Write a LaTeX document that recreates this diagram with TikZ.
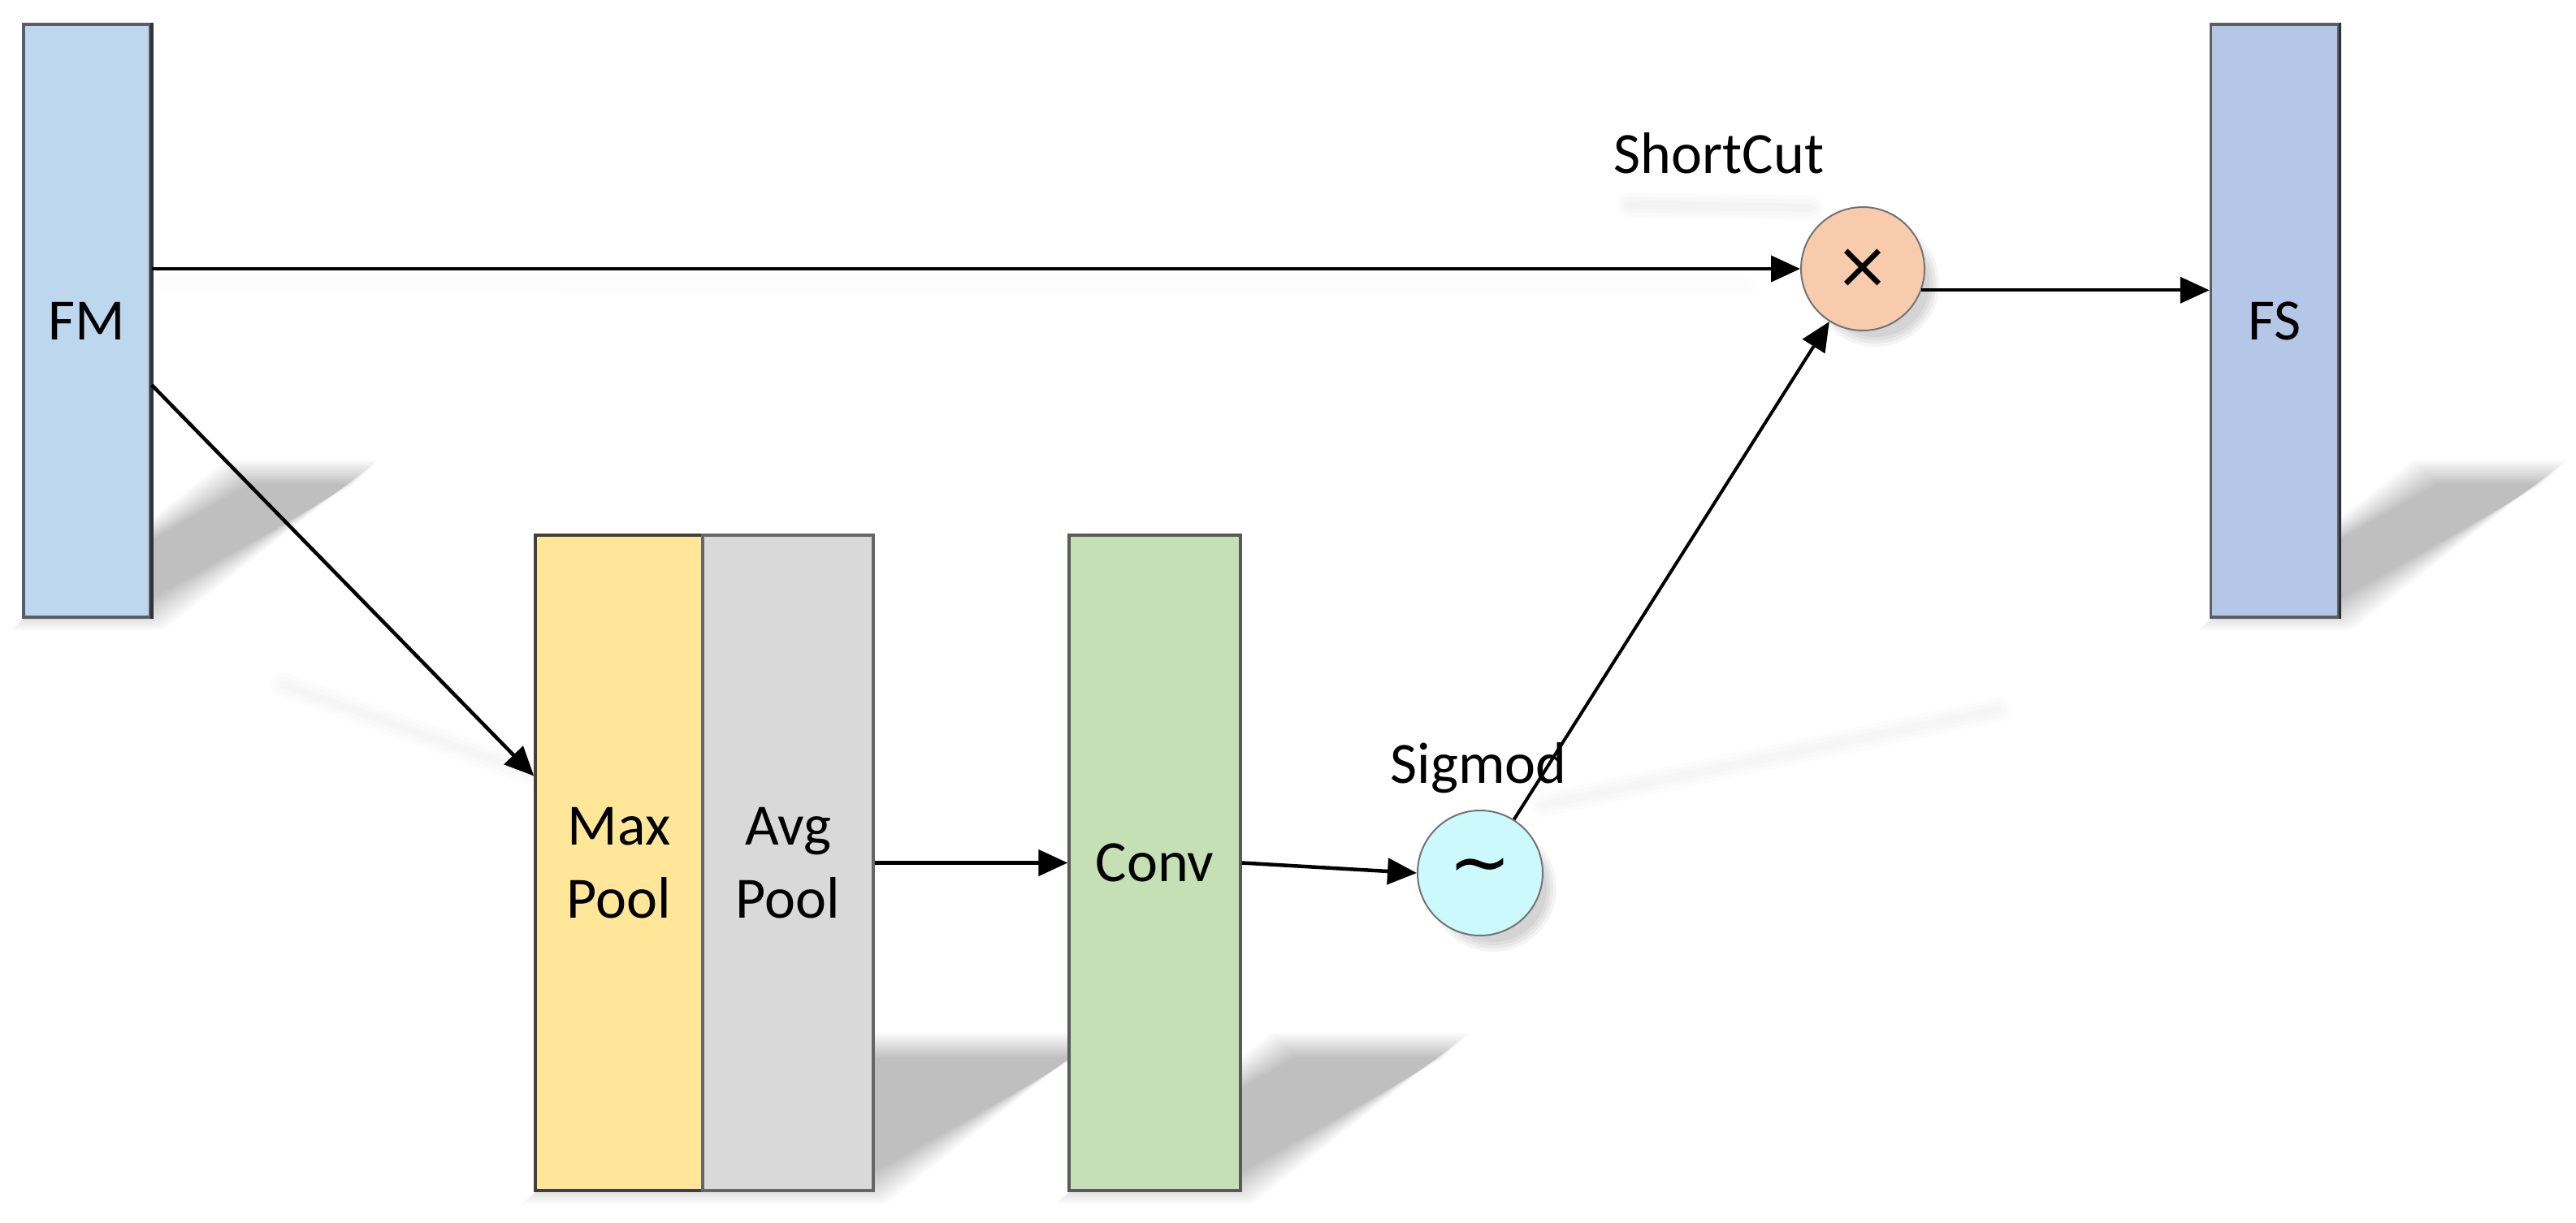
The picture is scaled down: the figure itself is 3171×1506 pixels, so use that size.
\documentclass[tikz,border=0pt]{standalone}
\usepackage{fontspec}
\setmainfont{Carlito}
\newfontfamily\symfont{DejaVu Sans}
\usetikzlibrary{arrows.meta,calc}
\definecolor{fmblue}{HTML}{BDD7EE}
\definecolor{fsblue}{HTML}{B4C7E7}
\definecolor{maxyel}{HTML}{FFE699}
\definecolor{avggray}{HTML}{D9D9D9}
\definecolor{convgreen}{HTML}{C5E0B4}
\definecolor{mulorange}{HTML}{F8CBAD}
\definecolor{sigcyan}{HTML}{CCFAFC}
\definecolor{edgegray}{HTML}{595E66}
\definecolor{edgedark}{HTML}{2E3136}
\newcommand{\castshadow}[3]{%
  \foreach \e in {16,14,...,-14} {%
    \fill[black, opacity=0.016]
      ({#1-\e},{#3+\e}) -- ({#2+\e},{#3+\e}) -- ({#2+265+\e},{#3-178-\e}) -- ({#1+265-\e},{#3-178-\e}) -- cycle;
  }%
}
\newcommand{\lineshadow}[5]{%
  \foreach \w in {30,20,10} {%
    \draw[line width=\w pt, black, opacity=#5, line cap=round] (#1,#2) -- (#3,#4);
  }%
}
\tikzset{
  txt/.style={font=\fontsize{72}{90}\selectfont, text=black},
  bar/.style={txt, draw=edgegray, line width=3.5pt, inner sep=0pt, align=center},
  op/.style={circle, draw=black!55, line width=2pt, inner sep=0pt, minimum size=152pt},
  arr/.style={-{Triangle[length=36pt,width=32pt]}, line width=4.5pt, draw=black},
}
\begin{document}
\begin{tikzpicture}[x=1pt,y=-1pt]
\fill[white] (0,0) rectangle (3171,1506);
\useasboundingbox (0,0) rectangle (3171,1506);
% cast shadows
\castshadow{29}{185}{760}
\castshadow{2722}{2879}{760}
\castshadow{659}{1075}{1466}
\castshadow{1316}{1527}{1466}
% faint line shadows
\lineshadow{348}{843}{656}{953}{0.012}
\lineshadow{1900}{991}{2460}{874}{0.012}
\lineshadow{2005}{252}{2230}{256}{0.014}
\lineshadow{200}{348}{2150}{350}{0.005}
% circle shadows
\foreach \e in {0,4,8,12} {
  \fill[black, opacity=0.045] (2309,349) circle ({66+\e});
  \fill[black, opacity=0.045] (1838,1094) circle ({66+\e});
}
% boxes
\node[bar, fill=fmblue, minimum width=156pt, minimum height=730pt] (FM) at (107,395) {FM};
\node[bar, fill=fsblue, minimum width=157pt, minimum height=730pt] (FS) at (2800,395) {FS};
\node[bar, draw=black!75, fill=maxyel, minimum width=206pt, minimum height=807pt] (maxp) at (762,1062.5) {Max\\Pool};
\node[bar, draw=black!60, fill=avggray, minimum width=210pt, minimum height=807pt] (avgp) at (970,1062.5) {Avg\\Pool};
\node[bar, draw=black!65, fill=convgreen, minimum width=211pt, minimum height=807pt] (conv) at (1421.5,1062.5) {Conv};
\draw[line width=3.5pt, edgedark] (FM.north east) -- (FM.south east);
\draw[line width=3.5pt, edgedark] (FS.north east) -- (FS.south east);
% operators
\node[op, fill=mulorange] (mul) at (2293,331) {\symfont\fontsize{80}{80}\selectfont ×};
\node[op, fill=sigcyan, minimum size=154pt] (sig) at (1822,1075) {\symfont\fontsize{92}{92}\selectfont ∼};
% labels
\node[txt, anchor=base] (lsc) at (2116,214) {ShortCut};
\node[txt, anchor=base] (lsig) at (1820,964) {Sigmod};
% connectors
\draw[arr] (mul.west -| FM.east) -- (mul.west);
\draw[arr] ($(FM.east)+(0,79)$) -- ($(maxp.west)+(0,-107)$);
\draw[arr] (avgp.east) -- (conv.west);
\draw[arr] (conv.east) -- (sig.west);
\draw[arr, line width=4pt] (sig) -- (mul);
\draw[arr, line width=4pt] (mul.-20) -- (mul.-20 -| FS.west);
\end{tikzpicture}
\end{document}
